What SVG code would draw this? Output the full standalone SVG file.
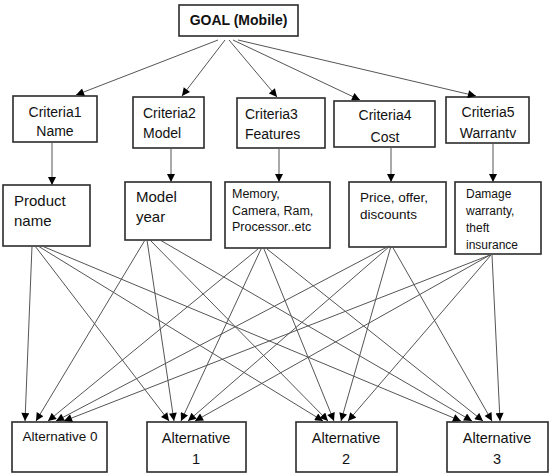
<svg xmlns="http://www.w3.org/2000/svg" width="550" height="474" viewBox="0 0 550 474">
<defs>
<marker id="ah" viewBox="0 0 10 10" refX="10" refY="5" markerWidth="9" markerHeight="8" markerUnits="userSpaceOnUse" orient="auto">
<path d="M0,0 L10,5 L0,10 z" fill="#000"/>
</marker>
<style>
.box{fill:#fff;stroke:#2b2b2b;stroke-width:1.6}
.t{font-family:"Liberation Sans",Arial,sans-serif;fill:#111}
.c{font-size:14px}
.s{font-size:15px}
.m{font-size:12.5px}
.g{font-size:12px}
.a{font-size:14.5px}
.con line{stroke:#555;stroke-width:1;marker-end:url(#ah)}
</style>
</defs>
<rect width="550" height="474" fill="#fff"/>

<g id="goal">
<rect class="box" x="179" y="5" width="119" height="31"/>
<text class="t" x="238.5" y="25" font-size="14" font-weight="bold" text-anchor="middle">GOAL (Mobile)</text>
</g>

<g id="criteria1">
<rect class="box" x="13" y="96" width="84" height="46"/>
<text class="t c" x="55" y="117" text-anchor="middle">Criteria1</text>
<text class="t c" x="55" y="136" text-anchor="middle">Name</text>
</g>
<g id="criteria2">
<rect class="box" x="133" y="97" width="71" height="51"/>
<text class="t c" x="143" y="118">Criteria2</text>
<text class="t c" x="143" y="138">Model</text>
</g>
<g id="criteria3">
<rect class="box" x="237" y="98" width="88" height="50"/>
<text class="t c" x="245" y="119">Criteria3</text>
<text class="t c" x="245" y="139">Features</text>
</g>
<g id="criteria4">
<rect class="box" x="334" y="101" width="101" height="46"/>
<text class="t c" x="385" y="120" text-anchor="middle">Criteria4</text>
<text class="t c" x="385" y="142" text-anchor="middle">Cost</text>
</g>
<g id="criteria5">
<rect class="box" x="446" y="97" width="83" height="46"/>
<text class="t c" x="488" y="117" text-anchor="middle">Criteria5</text>
<text class="t c" x="488" y="138" text-anchor="middle">Warrantv</text>
</g>

<g id="sub1">
<rect class="box" x="3" y="185" width="87" height="61"/>
<text class="t s" x="14" y="206">Product</text>
<text class="t s" x="14" y="226">name</text>
</g>
<g id="sub2">
<rect class="box" x="125" y="182" width="86" height="58"/>
<text class="t s" x="136" y="202">Model</text>
<text class="t s" x="136" y="222">year</text>
</g>
<g id="sub3">
<rect class="box" x="225" y="182" width="105" height="66"/>
<text class="t m" x="232" y="198">Memory,</text>
<text class="t m" x="232" y="215">Camera, Ram,</text>
<text class="t m" x="232" y="231">Processor..etc</text>
</g>
<g id="sub4">
<rect class="box" x="349" y="182" width="97" height="65"/>
<text class="t" x="360" y="202" font-size="13.5">Price, offer,</text>
<text class="t" x="360" y="219" font-size="13.5">discounts</text>
</g>
<g id="sub5">
<rect class="box" x="455" y="182" width="86" height="72"/>
<text class="t g" x="466" y="198">Damage</text>
<text class="t g" x="466" y="215">warranty,</text>
<text class="t g" x="466" y="232">theft</text>
<text class="t g" x="466" y="249">insurance</text>
</g>

<g id="alt0">
<rect class="box" x="12" y="422" width="95" height="50"/>
<text class="t" x="60" y="441" font-size="13.5" text-anchor="middle">Alternative 0</text>
</g>
<g id="alt1">
<rect class="box" x="147" y="422" width="99" height="50"/>
<text class="t a" x="196" y="443" text-anchor="middle">Alternative</text>
<text class="t a" x="196" y="464" text-anchor="middle">1</text>
</g>
<g id="alt2">
<rect class="box" x="296" y="422" width="101" height="50"/>
<text class="t a" x="346" y="443" text-anchor="middle">Alternative</text>
<text class="t a" x="346" y="464" text-anchor="middle">2</text>
</g>
<g id="alt3">
<rect class="box" x="447" y="422" width="101" height="50"/>
<text class="t a" x="497" y="443" text-anchor="middle">Alternative</text>
<text class="t a" x="497" y="464" text-anchor="middle">3</text>
</g>

<g id="connectors" class="con">
<line x1="218" y1="40" x2="76" y2="95"/>
<line x1="225" y1="40" x2="182" y2="96"/>
<line x1="229" y1="40" x2="277" y2="97"/>
<line x1="233" y1="40" x2="360" y2="100"/>
<line x1="238" y1="40" x2="476" y2="96"/>

<line x1="52" y1="142" x2="52" y2="185"/>
<line x1="171" y1="148" x2="171" y2="182"/>
<line x1="279" y1="148" x2="279" y2="182"/>
<line x1="391" y1="147" x2="391" y2="182"/>
<line x1="493" y1="143" x2="493" y2="182"/>

<line x1="32" y1="246" x2="25" y2="421"/>
<line x1="35" y1="246" x2="169" y2="421"/>
<line x1="38" y1="246" x2="323" y2="421"/>
<line x1="42" y1="246" x2="461" y2="421"/>

<line x1="145" y1="240" x2="36" y2="421"/>
<line x1="147" y1="240" x2="174" y2="421"/>
<line x1="150" y1="240" x2="328" y2="421"/>
<line x1="160" y1="240" x2="472" y2="421"/>

<line x1="258" y1="249" x2="48" y2="421"/>
<line x1="261" y1="249" x2="181" y2="421"/>
<line x1="264" y1="249" x2="334" y2="421"/>
<line x1="267" y1="249" x2="483" y2="421"/>

<line x1="389" y1="246" x2="56" y2="421"/>
<line x1="390" y1="246" x2="188" y2="421"/>
<line x1="391" y1="246" x2="341" y2="421"/>
<line x1="392" y1="246" x2="492" y2="421"/>

<line x1="490" y1="255" x2="64" y2="421"/>
<line x1="490" y1="255" x2="195" y2="421"/>
<line x1="491" y1="255" x2="348" y2="421"/>
<line x1="492" y1="255" x2="500" y2="421"/>
</g>
</svg>
